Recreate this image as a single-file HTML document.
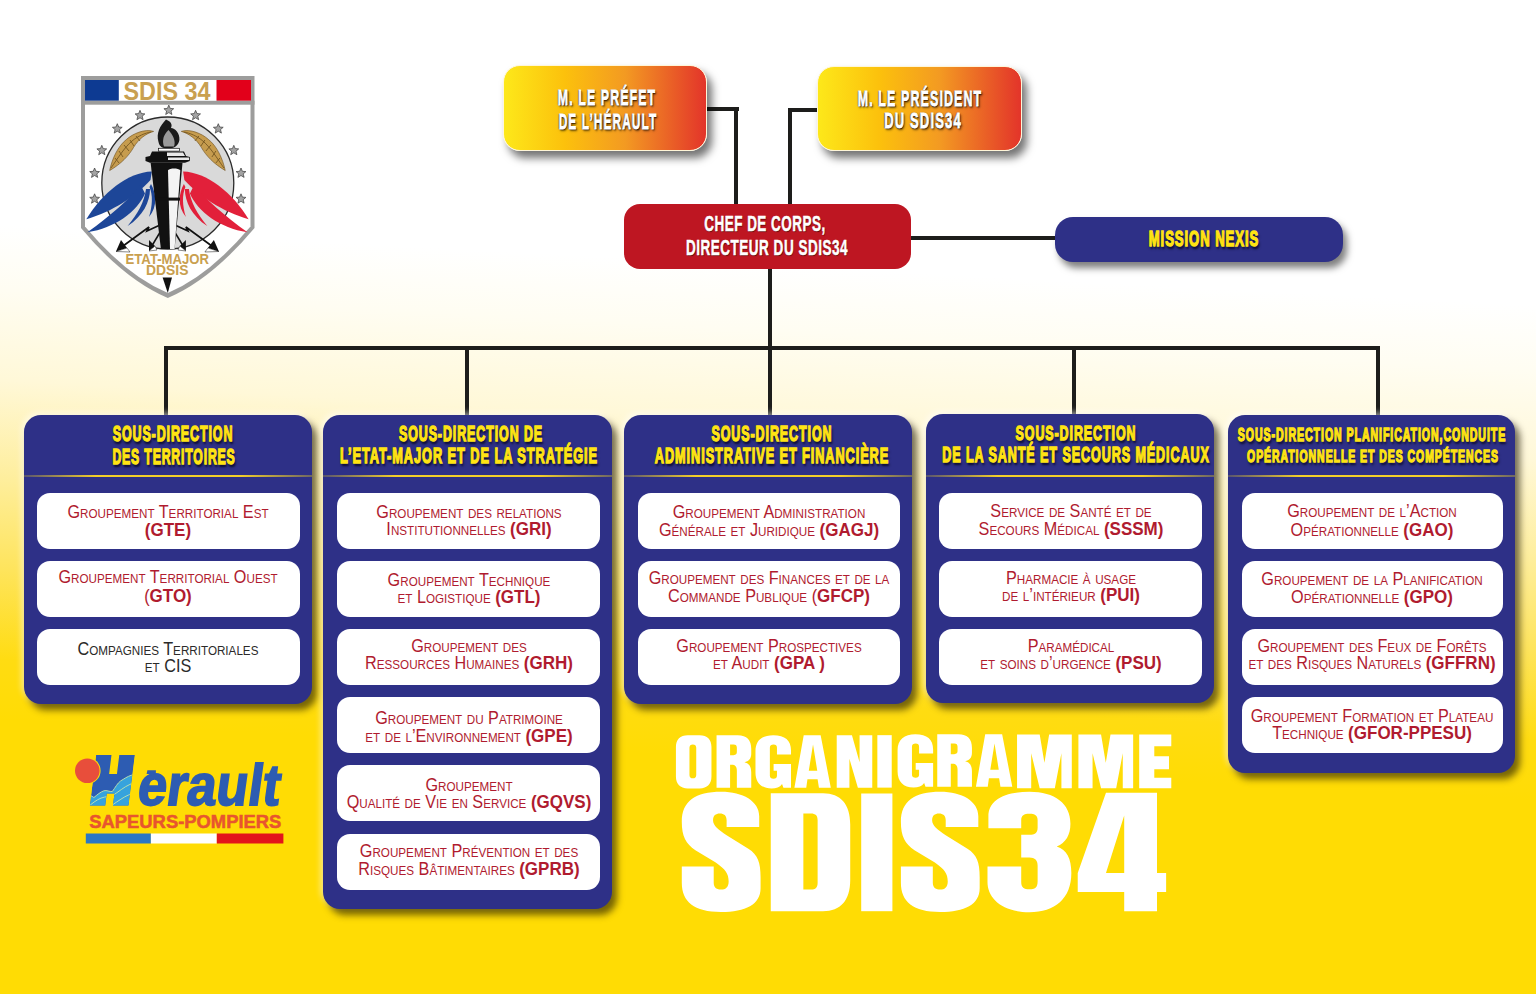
<!DOCTYPE html><html><head><meta charset="utf-8"><style>
*{margin:0;padding:0;box-sizing:border-box}
html,body{width:1536px;height:994px;overflow:hidden}
body{position:relative;font-family:"Liberation Sans",sans-serif;
 background:linear-gradient(183deg,#ffffff 0px,#ffffff 305px,#fffdf2 370px,#fff8d8 460px,#feee9c 559px,#fee45c 649px,#ffdc12 739px,#ffdc04 799px,#ffdc04 1073px);}
.abs{position:absolute}
.ln{position:absolute;background:#1d1d1b}
.col{position:absolute;background:#2e3087;border-radius:17px;box-shadow:5px 6px 7px rgba(30,25,0,.62),-2px -2px 6px rgba(255,255,255,.6)}
.cl{position:absolute;text-align:center;font-weight:bold;white-space:nowrap}
.sep{position:absolute;height:2.5px;background:linear-gradient(to right,rgba(255,228,18,.2),#f3cf2a 25%,#f3cf2a 75%,rgba(255,228,18,.3))}
.card{position:absolute;background:#fff;border-radius:13px}
.tl{position:absolute;width:600px;text-align:center;white-space:nowrap;font-size:18px;line-height:18px;color:#b01b2f;transform:scaleX(0.9)}
.tl i{font-style:normal;font-size:12.96px}
.tl b{font-weight:bold;font-size:18.9px}
.k .tl{color:#2b2a29}
.hb{position:absolute;border-radius:17px;background:linear-gradient(to right,#fde81a 0%,#fcc10c 30%,#f39a22 60%,#e3342a 100%);
 border:1.5px solid #fff6d8;box-shadow:5px 7px 8px rgba(0,0,0,.55)}
</style></head><body>

<div class="ln" style="left:706.0px;top:107.0px;width:32.5px;height:4.0px"></div>
<div class="ln" style="left:734.4px;top:107.0px;width:4.0px;height:97.0px"></div>
<div class="ln" style="left:788.0px;top:107.8px;width:30.0px;height:4.0px"></div>
<div class="ln" style="left:788.0px;top:107.8px;width:4.0px;height:97.0px"></div>
<div class="ln" style="left:910.0px;top:236.0px;width:146.0px;height:4.0px"></div>
<div class="ln" style="left:768.0px;top:268.0px;width:4.0px;height:148.0px"></div>
<div class="ln" style="left:163.7px;top:346.0px;width:1216.0px;height:4.0px"></div>
<div class="ln" style="left:163.7px;top:346.0px;width:4.0px;height:70.0px"></div>
<div class="ln" style="left:465.0px;top:346.0px;width:4.0px;height:70.0px"></div>
<div class="ln" style="left:1072.0px;top:346.0px;width:4.0px;height:70.0px"></div>
<div class="ln" style="left:1375.6px;top:346.0px;width:4.0px;height:70.0px"></div>
<div class="hb" style="left:502.7px;top:64.5px;width:204px;height:86.2px"></div>
<div class="cl" style="left:207.40px;top:87.25px;width:800px;font-size:22.38px;line-height:22.38px;color:#fff;transform:scaleX(0.5517);text-shadow:0 0 1.5px #2a1000,1px 1px 1px #2a1000,-0.5px -0.5px 1px #4a2000,2px 2px 3px rgba(0,0,0,.6);-webkit-text-stroke:0.90px #fff;letter-spacing:2.00px;">M. LE PRÉFET</div>
<div class="cl" style="left:207.60px;top:110.97px;width:800px;font-size:21.66px;line-height:21.66px;color:#fff;transform:scaleX(0.5483);text-shadow:0 0 1.5px #2a1000,1px 1px 1px #2a1000,-0.5px -0.5px 1px #4a2000,2px 2px 3px rgba(0,0,0,.6);-webkit-text-stroke:0.90px #fff;letter-spacing:2.00px;">DE L’HÉRAULT</div>
<div class="hb" style="left:817px;top:65.5px;width:204.7px;height:85.2px"></div>
<div class="cl" style="left:519.87px;top:88.14px;width:800px;font-size:21.80px;line-height:21.80px;color:#fff;transform:scaleX(0.5691);text-shadow:0 0 1.5px #2a1000,1px 1px 1px #2a1000,-0.5px -0.5px 1px #4a2000,2px 2px 3px rgba(0,0,0,.6);-webkit-text-stroke:0.90px #fff;letter-spacing:2.00px;">M. LE PRÉSIDENT</div>
<div class="cl" style="left:522.84px;top:110.42px;width:800px;font-size:21.95px;line-height:21.95px;color:#fff;transform:scaleX(0.5916);text-shadow:0 0 1.5px #2a1000,1px 1px 1px #2a1000,-0.5px -0.5px 1px #4a2000,2px 2px 3px rgba(0,0,0,.6);-webkit-text-stroke:0.90px #fff;letter-spacing:2.00px;">DU SDIS34</div>
<div class="abs" style="left:623.6px;top:204px;width:287.3px;height:65.3px;background:#be1622;border-radius:16px"></div>
<div class="cl" style="left:365.49px;top:213.48px;width:800px;font-size:22.24px;line-height:22.24px;color:#fff;transform:scaleX(0.6077);text-shadow:1px 1px 1px rgba(60,0,0,.8);-webkit-text-stroke:0.50px #fff;letter-spacing:0.80px;">CHEF DE CORPS,</div>
<div class="cl" style="left:367.09px;top:236.46px;width:800px;font-size:22.97px;line-height:22.97px;color:#fff;transform:scaleX(0.5903);text-shadow:1px 1px 1px rgba(60,0,0,.8);-webkit-text-stroke:0.50px #fff;letter-spacing:0.80px;">DIRECTEUR DU SDIS34</div>
<div class="abs" style="left:1055px;top:216.5px;width:288px;height:45px;background:#2e3087;border-radius:18px;box-shadow:4px 6px 7px rgba(0,0,0,.5)"></div>
<div class="cl" style="left:804.26px;top:228.13px;width:800px;font-size:22.53px;line-height:22.53px;color:#ffe412;transform:scaleX(0.5822);text-shadow:2px 3px 3px rgba(5,5,30,.9);-webkit-text-stroke:1.40px #ffe412;letter-spacing:1.60px;">MISSION NEXIS</div>
<div class="col" style="left:23.5px;top:415.0px;width:288.0px;height:289.4px"></div>
<div class="cl" style="left:-226.56px;top:421.88px;width:800px;font-size:22.82px;line-height:22.82px;color:#ffe412;transform:scaleX(0.5482);text-shadow:2px 3px 3px rgba(5,5,30,.9);-webkit-text-stroke:1.40px #ffe412;letter-spacing:1.60px;">SOUS-DIRECTION</div>
<div class="cl" style="left:-225.82px;top:444.78px;width:800px;font-size:22.82px;line-height:22.82px;color:#ffe412;transform:scaleX(0.5351);text-shadow:2px 3px 3px rgba(5,5,30,.9);-webkit-text-stroke:1.40px #ffe412;letter-spacing:1.60px;">DES TERRITOIRES</div>
<div class="sep" style="left:23.5px;top:474.5px;width:288.0px"></div>
<div class="card r" style="left:37.0px;top:492.5px;width:262.5px;height:56px">
<div class="tl" style="left:-168.8px;top:10.76px">G<i>ROUPEMENT</i> T<i>ERRITORIAL</i> E<i>ST</i></div>
<div class="tl" style="left:-168.8px;top:28.46px"><b>(GTE)</b></div>
</div>
<div class="card r" style="left:37.0px;top:560.7px;width:262.5px;height:56px">
<div class="tl" style="left:-168.8px;top:7.46px">G<i>ROUPEMENT</i> T<i>ERRITORIAL</i> O<i>UEST</i></div>
<div class="tl" style="left:-168.8px;top:26.36px">(<b>GTO)</b></div>
</div>
<div class="card k" style="left:37.0px;top:628.9px;width:262.5px;height:56px">
<div class="tl" style="left:-168.8px;top:10.76px">C<i>OMPAGNIES</i> T<i>ERRITORIALES</i></div>
<div class="tl" style="left:-168.8px;top:28.46px"><i>ET</i> CIS</div>
</div>
<div class="col" style="left:323.3px;top:415.0px;width:289.0px;height:494.0px"></div>
<div class="cl" style="left:70.87px;top:423.04px;width:800px;font-size:21.22px;line-height:21.22px;color:#ffe412;transform:scaleX(0.5847);text-shadow:2px 3px 3px rgba(5,5,30,.9);-webkit-text-stroke:1.40px #ffe412;letter-spacing:1.60px;">SOUS-DIRECTION DE</div>
<div class="cl" style="left:68.52px;top:445.34px;width:800px;font-size:21.80px;line-height:21.80px;color:#ffe412;transform:scaleX(0.5864);text-shadow:2px 3px 3px rgba(5,5,30,.9);-webkit-text-stroke:1.40px #ffe412;letter-spacing:1.60px;">L’ETAT-MAJOR ET DE LA STRATÉGIE</div>
<div class="sep" style="left:323.3px;top:474.5px;width:289.0px"></div>
<div class="card r" style="left:336.8px;top:492.5px;width:263.5px;height:56px">
<div class="tl" style="left:-168.2px;top:10.16px">G<i>ROUPEMENT</i> <i>DES</i> <i>RELATIONS</i></div>
<div class="tl" style="left:-168.2px;top:27.36px">I<i>NSTITUTIONNELLES</i> <b>(GRI)</b></div>
</div>
<div class="card r" style="left:336.8px;top:560.7px;width:263.5px;height:56px">
<div class="tl" style="left:-168.2px;top:9.96px">G<i>ROUPEMENT</i> T<i>ECHNIQUE</i></div>
<div class="tl" style="left:-168.2px;top:27.46px"><i>ET</i> L<i>OGISTIQUE</i> <b>(GTL)</b></div>
</div>
<div class="card r" style="left:336.8px;top:628.9px;width:263.5px;height:56px">
<div class="tl" style="left:-168.2px;top:8.16px">G<i>ROUPEMENT</i> <i>DES</i></div>
<div class="tl" style="left:-168.2px;top:25.46px">R<i>ESSOURCES</i> H<i>UMAINES</i> <b>(GRH)</b></div>
</div>
<div class="card r" style="left:336.8px;top:697.1px;width:263.5px;height:56px">
<div class="tl" style="left:-168.2px;top:12.16px">G<i>ROUPEMENT</i> <i>DU</i> P<i>ATRIMOINE</i></div>
<div class="tl" style="left:-168.2px;top:30.06px"><i>ET</i> <i>DE</i> <i>L</i>’E<i>NVIRONNEMENT</i> <b>(GPE)</b></div>
</div>
<div class="card r" style="left:336.8px;top:765.3px;width:263.5px;height:56px">
<div class="tl" style="left:-168.2px;top:10.36px">G<i>ROUPEMENT</i></div>
<div class="tl" style="left:-168.2px;top:27.96px">Q<i>UALITÉ</i> <i>DE</i> V<i>IE</i> <i>EN</i> S<i>ERVICE</i> <b>(GQVS)</b></div>
</div>
<div class="card r" style="left:336.8px;top:833.5px;width:263.5px;height:56px">
<div class="tl" style="left:-168.2px;top:8.76px">G<i>ROUPEMENT</i> P<i>RÉVENTION</i> <i>ET</i> <i>DES</i></div>
<div class="tl" style="left:-168.2px;top:26.66px">R<i>ISQUES</i> B<i>ÂTIMENTAIRES</i> <b>(GPRB)</b></div>
</div>
<div class="col" style="left:624.0px;top:415.0px;width:288.0px;height:289.4px"></div>
<div class="cl" style="left:372.02px;top:423.04px;width:800px;font-size:21.22px;line-height:21.22px;color:#ffe412;transform:scaleX(0.5865);text-shadow:2px 3px 3px rgba(5,5,30,.9);-webkit-text-stroke:1.40px #ffe412;letter-spacing:1.60px;">SOUS-DIRECTION</div>
<div class="cl" style="left:372.16px;top:445.34px;width:800px;font-size:21.80px;line-height:21.80px;color:#ffe412;transform:scaleX(0.5833);text-shadow:2px 3px 3px rgba(5,5,30,.9);-webkit-text-stroke:1.40px #ffe412;letter-spacing:1.60px;">ADMINISTRATIVE ET FINANCIÈRE</div>
<div class="sep" style="left:624.0px;top:474.5px;width:288.0px"></div>
<div class="card r" style="left:637.5px;top:492.5px;width:262.5px;height:56px">
<div class="tl" style="left:-168.8px;top:10.36px">G<i>ROUPEMENT</i> A<i>DMINISTRATION</i></div>
<div class="tl" style="left:-168.8px;top:28.46px">G<i>ÉNÉRALE</i> <i>ET</i> J<i>URIDIQUE</i> <b>(GAGJ)</b></div>
</div>
<div class="card r" style="left:637.5px;top:560.7px;width:262.5px;height:56px">
<div class="tl" style="left:-168.8px;top:8.06px">G<i>ROUPEMENT</i> <i>DES</i> F<i>INANCES</i> <i>ET</i> <i>DE</i> <i>LA</i></div>
<div class="tl" style="left:-168.8px;top:25.96px">C<i>OMMANDE</i> P<i>UBLIQUE</i> (<b>GFCP)</b></div>
</div>
<div class="card r" style="left:637.5px;top:628.9px;width:262.5px;height:56px">
<div class="tl" style="left:-168.8px;top:8.16px">G<i>ROUPEMENT</i> P<i>ROSPECTIVES</i></div>
<div class="tl" style="left:-168.8px;top:25.06px"><i>ET</i> A<i>UDIT</i> <b>(GPA )</b></div>
</div>
<div class="col" style="left:925.8px;top:414.0px;width:288.0px;height:289.4px"></div>
<div class="cl" style="left:676.12px;top:422.26px;width:800px;font-size:21.08px;line-height:21.08px;color:#ffe412;transform:scaleX(0.5892);text-shadow:2px 3px 3px rgba(5,5,30,.9);-webkit-text-stroke:1.40px #ffe412;letter-spacing:1.60px;">SOUS-DIRECTION</div>
<div class="cl" style="left:675.56px;top:444.44px;width:800px;font-size:21.80px;line-height:21.80px;color:#ffe412;transform:scaleX(0.5766);text-shadow:2px 3px 3px rgba(5,5,30,.9);-webkit-text-stroke:1.40px #ffe412;letter-spacing:1.60px;">DE LA SANTÉ ET SECOURS MÉDICAUX</div>
<div class="sep" style="left:925.8px;top:474.5px;width:288.0px"></div>
<div class="card r" style="left:939.3px;top:492.5px;width:262.5px;height:56px">
<div class="tl" style="left:-168.8px;top:9.46px">S<i>ERVICE</i> <i>DE</i> S<i>ANTÉ</i> <i>ET</i> <i>DE</i></div>
<div class="tl" style="left:-168.8px;top:27.36px">S<i>ECOURS</i> M<i>ÉDICAL</i> <b>(SSSM)</b></div>
</div>
<div class="card r" style="left:939.3px;top:560.7px;width:262.5px;height:56px">
<div class="tl" style="left:-168.8px;top:8.16px">P<i>HARMACIE</i> <i>À</i> <i>USAGE</i></div>
<div class="tl" style="left:-168.8px;top:25.46px"><i>DE</i> <i>L</i>’<i>INTÉRIEUR</i> <b>(PUI)</b></div>
</div>
<div class="card r" style="left:939.3px;top:628.9px;width:262.5px;height:56px">
<div class="tl" style="left:-168.8px;top:8.16px">P<i>ARAMÉDICAL</i></div>
<div class="tl" style="left:-168.8px;top:24.96px"><i>ET</i> <i>SOINS</i> <i>D</i>’<i>URGENCE</i> <b>(PSU)</b></div>
</div>
<div class="col" style="left:1228.0px;top:415.0px;width:287.3px;height:357.6px"></div>
<div class="cl" style="left:972.42px;top:426.02px;width:800px;font-size:18.17px;line-height:18.17px;color:#ffe412;transform:scaleX(0.5828);text-shadow:2px 3px 3px rgba(5,5,30,.9);-webkit-text-stroke:1.40px #ffe412;letter-spacing:1.60px;">SOUS-DIRECTION PLANIFICATION,CONDUITE</div>
<div class="cl" style="left:972.70px;top:448.53px;width:800px;font-size:16.86px;line-height:16.86px;color:#ffe412;transform:scaleX(0.6182);text-shadow:2px 3px 3px rgba(5,5,30,.9);-webkit-text-stroke:1.40px #ffe412;letter-spacing:1.60px;">OPÉRATIONNELLE ET DES COMPÉTENCES</div>
<div class="sep" style="left:1228.0px;top:474.5px;width:287.3px"></div>
<div class="card r" style="left:1241.5px;top:492.5px;width:261.8px;height:56px">
<div class="tl" style="left:-169.1px;top:9.96px">G<i>ROUPEMENT</i> <i>DE</i> <i>L</i>’A<i>CTION</i></div>
<div class="tl" style="left:-169.1px;top:28.16px">O<i>PÉRATIONNELLE</i> <b>(GAO)</b></div>
</div>
<div class="card r" style="left:1241.5px;top:560.7px;width:261.8px;height:56px">
<div class="tl" style="left:-169.1px;top:9.76px">G<i>ROUPEMENT</i> <i>DE</i> <i>LA</i> P<i>LANIFICATION</i></div>
<div class="tl" style="left:-169.1px;top:27.46px">O<i>PÉRATIONNELLE</i> <b>(GPO)</b></div>
</div>
<div class="card r" style="left:1241.5px;top:628.9px;width:261.8px;height:56px">
<div class="tl" style="left:-169.1px;top:8.36px">G<i>ROUPEMENT</i> <i>DES</i> F<i>EUX</i> <i>DE</i> F<i>ORÊTS</i></div>
<div class="tl" style="left:-169.1px;top:24.96px"><i>ET</i> <i>DES</i> R<i>ISQUES</i> N<i>ATURELS</i> <b>(GFFRN)</b></div>
</div>
<div class="card r" style="left:1241.5px;top:697.1px;width:261.8px;height:56px">
<div class="tl" style="left:-169.1px;top:9.76px">G<i>ROUPEMENT</i> F<i>ORMATION</i> <i>ET</i> P<i>LATEAU</i></div>
<div class="tl" style="left:-169.1px;top:26.86px">T<i>ECHNIQUE</i> <b>(GFOR-PPESU)</b></div>
</div>
<svg class="abs" style="left:0;top:0" width="300" height="310" viewBox="0 0 300 310">
<path d="M81,76 L254.5,76 L254.5,228 Q211.4,279.5 167.8,298 Q124.2,279.5 81,228 Z" fill="#9d9d9c"/>
<path d="M85,80 L250.5,80 L250.5,226.5 Q209.5,275.5 167.8,293 Q126,275.5 85,226.5 Z" fill="#ffffff"/>
<rect x="85" y="80" width="33.8" height="20.8" fill="#0d3a92"/>
<rect x="216.5" y="80" width="34.5" height="20.8" fill="#e2001a"/>
<rect x="81" y="100.8" width="173.5" height="3.9" fill="#9d9d9c"/>
<text x="167" y="99.5" text-anchor="middle" font-family="Liberation Sans" font-weight="bold" font-size="25.9" fill="#c9a050" textLength="87" lengthAdjust="spacingAndGlyphs">SDIS 34</text>
<circle cx="167.8" cy="183" r="66" fill="#d9d9d9" stroke="#2b2b2b" stroke-width="1.3"/>
<polygon points="168.8,105.1 170.2,108.4 173.7,108.7 171.0,111.0 171.9,114.5 168.8,112.6 165.7,114.5 166.6,111.0 163.9,108.7 167.4,108.4" fill="#a3a3a3" stroke="#3a3a3a" stroke-width="0.7"/>
<polygon points="140.0,110.3 141.4,113.6 144.9,113.9 142.2,116.2 143.1,119.7 140.0,117.8 136.9,119.7 137.8,116.2 135.1,113.9 138.6,113.6" fill="#a3a3a3" stroke="#3a3a3a" stroke-width="0.7"/>
<polygon points="195.6,110.3 197.0,113.6 200.5,113.9 197.8,116.2 198.7,119.7 195.6,117.8 192.5,119.7 193.4,116.2 190.7,113.9 194.2,113.6" fill="#a3a3a3" stroke="#3a3a3a" stroke-width="0.7"/>
<polygon points="117.3,123.7 118.7,127.0 122.2,127.3 119.5,129.6 120.4,133.1 117.3,131.2 114.2,133.1 115.1,129.6 112.4,127.3 115.9,127.0" fill="#a3a3a3" stroke="#3a3a3a" stroke-width="0.7"/>
<polygon points="218.3,123.7 219.7,127.0 223.2,127.3 220.5,129.6 221.4,133.1 218.3,131.2 215.2,133.1 216.1,129.6 213.4,127.3 216.9,127.0" fill="#a3a3a3" stroke="#3a3a3a" stroke-width="0.7"/>
<polygon points="101.8,145.3 103.2,148.6 106.7,148.9 104.0,151.2 104.9,154.7 101.8,152.8 98.7,154.7 99.6,151.2 96.9,148.9 100.4,148.6" fill="#a3a3a3" stroke="#3a3a3a" stroke-width="0.7"/>
<polygon points="233.8,145.3 235.2,148.6 238.7,148.9 236.0,151.2 236.9,154.7 233.8,152.8 230.7,154.7 231.6,151.2 228.9,148.9 232.4,148.6" fill="#a3a3a3" stroke="#3a3a3a" stroke-width="0.7"/>
<polygon points="94.6,168.0 96.0,171.3 99.5,171.6 96.8,173.9 97.7,177.4 94.6,175.5 91.5,177.4 92.4,173.9 89.7,171.6 93.2,171.3" fill="#a3a3a3" stroke="#3a3a3a" stroke-width="0.7"/>
<polygon points="241.0,168.0 242.4,171.3 245.9,171.6 243.2,173.9 244.1,177.4 241.0,175.5 237.9,177.4 238.8,173.9 236.1,171.6 239.6,171.3" fill="#a3a3a3" stroke="#3a3a3a" stroke-width="0.7"/>
<polygon points="94.6,193.8 96.0,197.1 99.5,197.4 96.8,199.7 97.7,203.2 94.6,201.3 91.5,203.2 92.4,199.7 89.7,197.4 93.2,197.1" fill="#a3a3a3" stroke="#3a3a3a" stroke-width="0.7"/>
<polygon points="241.0,193.8 242.4,197.1 245.9,197.4 243.2,199.7 244.1,203.2 241.0,201.3 237.9,203.2 238.8,199.7 236.1,197.4 239.6,197.1" fill="#a3a3a3" stroke="#3a3a3a" stroke-width="0.7"/>
<path d="M109.7,170.5 C112,159 118,146 126.4,139.5 C133,133.5 145,128.5 153.6,131.4 C146,133.5 138.5,139 133.5,147.5 C129,155.5 121,164 109.7,170.5 Z" fill="#c69c4e" stroke="#6b4e1c" stroke-width="0.6"/><path d="M111,168 C118,158 124,148 132,141 C138,136 145,133 151,132 M119,151 L123,157 M124,145 L129,151 M130,140 L134,146 M136,136 L140,141 M115,158 L119,163" stroke="#6b4e1c" stroke-width="0.8" fill="none"/>
<g transform="translate(334.9,0) scale(-1,1)"><path d="M109.7,170.5 C112,159 118,146 126.4,139.5 C133,133.5 145,128.5 153.6,131.4 C146,133.5 138.5,139 133.5,147.5 C129,155.5 121,164 109.7,170.5 Z" fill="#c69c4e" stroke="#6b4e1c" stroke-width="0.6"/><path d="M111,168 C118,158 124,148 132,141 C138,136 145,133 151,132 M119,151 L123,157 M124,145 L129,151 M130,140 L134,146 M136,136 L140,141 M115,158 L119,163" stroke="#6b4e1c" stroke-width="0.8" fill="none"/></g>
<g fill="#1d4698"><path d="M151.8,171.4 C128,172 102,193 86.3,219.2 C112,212 136,196 150.5,180 Z"/><path d="M140.5,184.5 C130,199 110,216 87.4,232.3 C115,228 137,212 145,193.5 Z"/><path d="M146,189 C144.5,202 137.5,214 127.6,226.1 C143,216 150,202 150,189 Z"/><path d="M151,184 C156,193 158,206 149,217 C152.5,206 153,195 149.5,187 Z"/></g>
<g fill="#e2203a" transform="translate(334.9,0) scale(-1,1)"><path d="M151.8,171.4 C128,172 102,193 86.3,219.2 C112,212 136,196 150.5,180 Z"/><path d="M140.5,184.5 C130,199 110,216 87.4,232.3 C115,228 137,212 145,193.5 Z"/><path d="M146,189 C144.5,202 137.5,214 127.6,226.1 C143,216 150,202 150,189 Z"/><path d="M151,184 C156,193 158,206 149,217 C152.5,206 153,195 149.5,187 Z"/></g>
<path d="M160,225 L147,231 L149,227 L117.6,250" stroke="#111" stroke-width="1.7" fill="none"/><path d="M162,229 L150,249" stroke="#111" stroke-width="1.5" fill="none"/><path d="M116,251.5 L121,240 L127,248 Z" fill="#111"/><path d="M116,251.5 L127,248 L130,252 Z" fill="#fff" stroke="#111" stroke-width="0.5"/><path d="M149,251 L149,240 L155,246 Z" fill="#111"/><path d="M149,251 L155,246 L157,250 Z" fill="#fff" stroke="#111" stroke-width="0.5"/>
<g transform="translate(334.9,0) scale(-1,1)"><path d="M160,225 L147,231 L149,227 L117.6,250" stroke="#111" stroke-width="1.7" fill="none"/><path d="M162,229 L150,249" stroke="#111" stroke-width="1.5" fill="none"/><path d="M116,251.5 L121,240 L127,248 Z" fill="#111"/><path d="M116,251.5 L127,248 L130,252 Z" fill="#fff" stroke="#111" stroke-width="0.5"/><path d="M149,251 L149,240 L155,246 Z" fill="#111"/><path d="M149,251 L155,246 L157,250 Z" fill="#fff" stroke="#111" stroke-width="0.5"/></g>
<path d="M166,119.5 C160,126 156,133 158.5,142 C159.5,147 163,148.5 168,148.5 C174,148.5 178.5,146 179.4,140 C180,133 175,128 171,128 C173,124 170,121 166,119.5 Z" fill="#1a1a1a"/>
<path d="M168.5,130 C163,135 162,141 164,146.5 L174,146.5 C176,141 173,135 168.5,130 Z" fill="#9a9a9a"/>
<rect x="158.5" y="148.3" width="21" height="2.8" fill="#fff" stroke="#111" stroke-width="0.7"/>
<path d="M152,151.5 L184,151.5 L186,156 L189.8,157 L189.8,161 L185,162.7 L150,162.7 L145.5,161 L145.5,157 L150,156 Z" fill="#111"/>
<path d="M167,152.5 L183,152.5 L185,156 L167,156 Z M168,157.5 L189,157.5 L189,160 L168,160 Z" fill="#e8e8e8"/>
<path d="M150.6,162.7 L182.5,162.7 L174.6,249 L160.9,249 Z" fill="#111"/>
<path d="M168,170.3 C170,168 178,168 180.3,170.3 L174.6,249 L170,249 Z" fill="#f4f4f4"/>
<rect x="158" y="197.6" width="22" height="3" fill="#111"/>
<path d="M162.6,277.5 L172,277.5 L167.8,293 Z" fill="#111"/>
<text x="167.3" y="264" text-anchor="middle" font-family="Liberation Sans" font-weight="bold" font-size="15.3" fill="#c9a050" textLength="83.5" lengthAdjust="spacingAndGlyphs">ETAT-MAJOR</text>
<text x="167.2" y="275.3" text-anchor="middle" font-family="Liberation Sans" font-weight="bold" font-size="15" fill="#c9a050" textLength="42.4" lengthAdjust="spacingAndGlyphs">DDSIS</text>
</svg>
<svg class="abs" style="left:0;top:700px" width="320" height="180" viewBox="0 700 320 180">
<defs><clipPath id="hclip"><path d="M0,0 L15.4,0 L15.4,19 L23.2,19 L23.2,0 L38.7,0 L38.7,50.7 L23.2,50.7 L23.2,38.7 L15.4,38.7 L15.4,50.7 L0,50.7 Z"/></clipPath></defs>
<g transform="translate(96.1,754.9) skewX(-7.1)">
<g clip-path="url(#hclip)"><rect x="-5" y="-5" width="50" height="60" fill="#2d5cb2"/>
<path d="M-5,40 L0,40.8 L3.1,42.6 C6,40 9,37 12.2,35.9 C15,35 18,37 20.8,36.6 C23,33 25,28 27.8,26 C31,24 34,21.5 37.7,20.4 L45,18 L45,60 L-5,60 Z" fill="#36a3dd"/>
<path d="M-5,40 L0,40.8 L3.1,42.6 C6,40 9,37 12.2,35.9 C15,35 18,37 20.8,36.6 C23,33 25,28 27.8,26 C31,24 34,21.5 37.7,20.4 L45,18" stroke="#bfe3b0" stroke-width="0.9" fill="none"/>
<path d="M0.5,50 C5,46 9,43 13.7,42.2 L21.3,40.8 C27,37 32,32 37.5,29.5 L45,26 M22.4,50.1 C28,46 33,42 37.4,40.1 L45,37" stroke="#bfe3b0" stroke-width="0.9" fill="none"/>
</g></g>
<circle cx="87.3" cy="770.7" r="13.3" fill="#ffdc04"/>
<circle cx="87.3" cy="770.7" r="12.3" fill="#e84e3b"/>
<g transform="translate(136,804.7) skewX(-8)"><text x="0" y="0" font-family="Liberation Sans" font-weight="bold" font-size="58" fill="#2d5cb2" stroke="#2d5cb2" stroke-width="1.8" textLength="142" lengthAdjust="spacingAndGlyphs">erault</text></g>
<path d="M146.6,774 L147.4,770.2 L155.9,770.2 L155.8,774 Z" fill="#2d5cb2"/>
<text x="89.3" y="827.8" font-family="Liberation Sans" font-weight="bold" font-size="18.3" fill="#e8552e" stroke="#e8552e" stroke-width="0.5" textLength="192" lengthAdjust="spacingAndGlyphs">SAPEURS-POMPIERS</text>
<rect x="85.8" y="833.5" width="65.1" height="10" fill="#2c78c4"/>
<rect x="150.9" y="833.5" width="65.9" height="10" fill="#ffffff"/>
<rect x="216.8" y="833.5" width="66.6" height="10" fill="#e3141b"/>
</svg>
<svg class="abs" style="left:0;top:0" width="1536" height="994" viewBox="0 0 1536 994">
<g fill="#fff" fill-rule="evenodd">
<g transform="translate(675,785) scale(0.13583)"><path d="M340,50 C500,50 620,120 620,230 L620,310 L380,310 L380,260 C380,225 360,210 330,210 C300,210 280,225 280,260 C280,300 320,330 380,370 L540,470 C610,515 630,570 630,680 L630,760 C630,880 520,935 340,935 C140,935 50,860 50,720 L50,600 L285,600 L285,720 C285,760 310,770 340,770 C370,770 395,755 395,710 C395,650 370,620 300,570 L150,480 C80,430 50,380 50,270 C50,120 150,50 340,50 Z"/><path d="M705,60 L1090,60 C1220,60 1290,140 1290,290 L1290,700 C1290,850 1220,930 1090,930 L705,930 Z M945,210 L1000,210 C1035,210 1050,225 1050,260 L1050,720 C1050,755 1035,770 1000,770 L945,770 Z"/></g>
<rect x="861.2" y="793.5" width="31.2" height="117.7"/>
<g transform="translate(894.1,785) scale(0.13583)"><path d="M340,50 C500,50 620,120 620,230 L620,310 L380,310 L380,260 C380,225 360,210 330,210 C300,210 280,225 280,260 C280,300 320,330 380,370 L540,470 C610,515 630,570 630,680 L630,760 C630,880 520,935 340,935 C140,935 50,860 50,720 L50,600 L285,600 L285,720 C285,760 310,770 340,770 C370,770 395,755 395,710 C395,650 370,620 300,570 L150,480 C80,430 50,380 50,270 C50,120 150,50 340,50 Z"/></g>
<g transform="translate(900,780) scale(0.18228)"><path d="M710,65 C850,65 935,130 935,240 C935,300 910,345 860,365 C915,385 940,430 940,510 C940,650 850,725 710,725 C560,725 480,650 480,560 L480,475 L665,475 L665,560 C665,590 680,600 710,600 C740,600 755,590 755,555 L755,470 C755,440 740,425 710,425 L665,425 L665,300 L710,300 C740,300 755,290 755,260 L755,220 C755,195 740,185 710,185 C680,185 665,195 665,220 L665,265 L485,265 L485,200 C485,110 570,65 710,65 Z"/><path d="M1130,70 L1410,70 L1410,510 L1460,510 L1460,615 L1410,615 L1410,720 L1230,720 L1230,615 L975,615 L975,510 Z M1230,195 L1230,510 L1130,510 Z"/></g>
<g transform="translate(670,725) scale(0.16926)"><path d="M105,60 L175,60 C220,60 245,85 245,130 L245,305 C245,350 220,375 175,375 L105,375 C60,375 35,350 35,305 L35,130 C35,85 60,60 105,60 Z M135,115 C122,115 115,122 115,135 L115,295 C115,308 122,315 135,315 C148,315 155,308 155,295 L155,135 C155,122 148,115 135,115 Z"/><path d="M275,60 L400,60 C455,60 480,90 480,140 L480,170 C480,200 465,215 440,220 C468,228 480,245 480,280 L480,370 L395,370 L395,270 C395,245 385,235 365,235 L355,235 L355,370 L275,370 Z M355,115 L375,115 C390,115 395,122 395,135 L395,160 C395,172 390,178 375,178 L355,178 Z"/><path d="M610,60 C680,60 715,90 715,150 L715,175 L632,175 L632,135 C632,120 625,115 612,115 C598,115 590,120 590,135 L590,300 C590,312 598,318 612,318 C625,318 632,312 632,300 L632,270 L612,270 L612,230 L715,230 L715,370 L670,370 L662,348 C648,368 628,375 600,375 C540,375 505,340 505,280 L505,155 C505,90 545,60 610,60 Z"/><path d="M790,60 L890,60 L950,370 L880,370 L872,320 L812,320 L805,370 L735,370 Z M845,115 L870,270 L820,270 Z"/><path d="M985,60 L1075,60 L1120,220 L1120,60 L1195,60 L1195,370 L1110,370 L1060,200 L1060,370 L985,370 Z"/><path d="M1225,60 L1310,60 L1310,370 L1225,370 Z"/></g>
<g transform="translate(812.1,724) scale(0.16926)"><path d="M610,60 C680,60 715,90 715,150 L715,175 L632,175 L632,135 C632,120 625,115 612,115 C598,115 590,120 590,135 L590,300 C590,312 598,318 612,318 C625,318 632,312 632,300 L632,270 L612,270 L612,230 L715,230 L715,370 L670,370 L662,348 C648,368 628,375 600,375 C540,375 505,340 505,280 L505,155 C505,90 545,60 610,60 Z"/></g>
<g transform="translate(890.7,724) scale(0.16926)"><path d="M275,60 L400,60 C455,60 480,90 480,140 L480,170 C480,200 465,215 440,220 C468,228 480,245 480,280 L480,370 L395,370 L395,270 C395,245 385,235 365,235 L355,235 L355,370 L275,370 Z M355,115 L375,115 C390,115 395,122 395,135 L395,160 C395,172 390,178 375,178 L355,178 Z"/></g>
<g transform="translate(851.5,724) scale(0.16926)"><path d="M790,60 L890,60 L950,370 L880,370 L872,320 L812,320 L805,370 L735,370 Z M845,115 L870,270 L820,270 Z"/></g>
<g transform="translate(890,725) scale(0.18878)"><path d="M670,50 L790,50 L815,200 L840,50 L960,50 L960,335 L905,335 L905,150 L870,335 L790,335 L745,150 L745,335 L670,335 Z" transform="translate(3,0)"/><path d="M670,50 L790,50 L815,200 L840,50 L960,50 L960,335 L905,335 L905,150 L870,335 L790,335 L745,150 L745,335 L670,335 Z" transform="translate(328,0)"/><path d="M1320,50 L1490,50 L1490,112 L1400,112 L1400,165 L1478,165 L1478,235 L1400,235 L1400,280 L1490,280 L1490,335 L1320,335 Z"/></g>
</g></svg>
</body></html>
